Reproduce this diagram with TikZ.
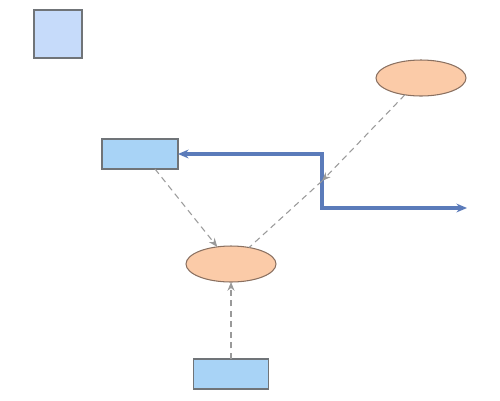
\documentclass[tikz,border=0pt]{standalone}
\usetikzlibrary{shapes.geometric,arrows.meta}
\definecolor{sqfill}{HTML}{C6DBFA}
\definecolor{rfill}{HTML}{A8D3F6}
\definecolor{efill}{HTML}{FBCBA8}
\definecolor{edge}{HTML}{707478}
\definecolor{eedge}{HTML}{8A7060}
\definecolor{blueline}{HTML}{5B7BBA}
\definecolor{dashc}{HTML}{9A9A9A}
\begin{document}
\begin{tikzpicture}[x=0.02cm,y=-0.02cm,
  boxnode/.style={draw=edge,line width=0.6pt,fill=rfill,inner sep=0,outer sep=0,rectangle},
  ellnode/.style={draw=eedge,line width=0.6pt,fill=efill,inner sep=0,outer sep=0,ellipse,minimum width=1.8cm,minimum height=0.72cm},
  dashlink/.style={draw=dashc,dash pattern=on 3.5pt off 2.5pt,line width=0.6pt},
  dasharrow/.style={dashlink,-{Stealth[length=5pt,width=4pt]}},
  bluelink/.style={draw=blueline,line width=1.9pt}]
\useasboundingbox (0,0) rectangle (500,400);
\fill[white] (0,0) rectangle (500,400);
\node[boxnode,fill=sqfill,minimum width=0.96cm,minimum height=0.96cm] (sq) at (58,34) {};
\node[ellnode] (etop) at (421,78) {};
\node[boxnode,minimum width=1.52cm,minimum height=0.6cm] (rleft) at (140,154) {};
\node[ellnode] (emid) at (231,264) {};
\node[boxnode,minimum width=1.5cm,minimum height=0.6cm] (rbot) at (231,374) {};
\coordinate (c1) at (322,154);
\coordinate (c2) at (322,208);
\coordinate (rend) at (467,208);
\coordinate (j) at (322,181);
\draw[bluelink,{Stealth[length=6pt,width=5pt]}-{Stealth[length=6pt,width=5pt]}] (rleft.east) -- (c1) -- (c2) -- (rend);
\draw[dasharrow] (etop) -- (j);
\draw[dashlink] (j) -- (emid);
\draw[dasharrow] (rleft.south) ++(15,0) coordinate (rs) (rs) -- (emid);
\draw[dasharrow] (rbot.north) -- (emid.south);
\end{tikzpicture}
\end{document}
